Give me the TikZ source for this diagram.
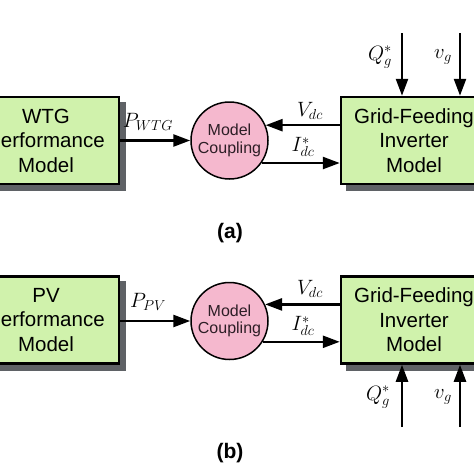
\documentclass[tikz,border=0pt]{standalone}
\usepackage{fontspec}
\setmainfont{Liberation Sans}
\usetikzlibrary{arrows.meta,backgrounds}
\definecolor{boxgreen}{RGB}{208,242,172}
\definecolor{cpink}{RGB}{245,184,206}
\definecolor{shadowgray}{RGB}{95,98,102}
\definecolor{ctext}{RGB}{45,30,38}
\tikzset{
 block/.style={draw=black, line width=2.5pt, fill=boxgreen, minimum width=146pt, minimum height=87pt, align=center, inner sep=0pt,
   font=\fontsize{20.5}{24.5}\selectfont},
 boxshadow/.style={fill=shadowgray},
 coup/.style={circle, draw=black, line width=1.5pt, fill=cpink, minimum size=77pt, inner sep=0pt, align=center,
   text=ctext, font=\fontsize{16}{17.5}\selectfont},
 arr/.style={line width=2.5pt, -{Triangle[length=17pt,width=12pt]}},
 lab/.style={font=\fontsize{20}{24}\selectfont, inner sep=0pt},
 captext/.style={font=\fontsize{21}{24}\selectfont\bfseries, inner sep=0pt}
}
\begin{document}
\begin{tikzpicture}[x=1pt,y=-1pt]
\useasboundingbox (0,0) rectangle (474,474);
% ---------- (a) ----------
\node[block] (wtg) at (46,140.5) {WTG\\Performance\\Model};
\node[coup] (cpa) at (229.5,140.5) {Model\\Coupling};
\node[block] (gfa) at (414,140.5) {Grid-Feeding\\Inverter\\Model};
\draw[arr] (wtg.east) -- (cpa.west);
\draw[arr] (gfa.west |- cpa.23) -- (cpa.23);
\draw[arr] (cpa.-35) -- (gfa.west |- cpa.-35);
\node[lab] (pwtg) at (148,122) {$P_{WTG}$};
\node[lab] (vdca) at (310,111) {$V_{dc}$};
\node[lab] (idca) at (303,147) {$I_{dc}^{*}$};
\coordinate (qsa) at (402,33);
\coordinate (vsa) at (460,33);
\draw[arr] (qsa) -- (qsa |- gfa.north);
\draw[arr] (vsa) -- (vsa |- gfa.north);
\node[lab] (qla) at (380,57) {$Q_g^{*}$};
\node[lab] (vla) at (443,57) {$v_g$};
\node[captext] (capa) at (230,233) {(a)};
% ---------- (b) ----------
\node[block] (pv) at (46,320) {PV\\Performance\\Model};
\node[coup] (cpb) at (229.5,321) {Model\\Coupling};
\node[block] (gfb) at (414,320) {Grid-Feeding\\Inverter\\Model};
\draw[arr] (pv.east |- cpb.west) -- (cpb.west);
\draw[arr] (gfb.west |- cpb.25) -- (cpb.25);
\draw[arr] (cpb.-32) -- (gfb.west |- cpb.-32);
\node[lab] (ppv) at (148,302) {$P_{PV}$};
\node[lab] (vdcb) at (310,289) {$V_{dc}$};
\node[lab] (idcb) at (303,326) {$I_{dc}^{*}$};
\coordinate (qsb) at (402,427);
\coordinate (vsb) at (460,427);
\draw[arr] (qsb) -- (qsb |- gfb.south);
\draw[arr] (vsb) -- (vsb |- gfb.south);
\node[lab] (qlb) at (378,397) {$Q_g^{*}$};
\node[lab] (vlb) at (443,397) {$v_g$};
\node[captext] (capb) at (230,453) {(b)};
% ---------- shadows ----------
\begin{scope}[on background layer]
\foreach \b in {wtg,gfa,pv,gfb}
  \fill[boxshadow] ([shift={(6,6)}]\b.north west) rectangle ([shift={(6,6)}]\b.south east);
\end{scope}
\end{tikzpicture}
\end{document}
